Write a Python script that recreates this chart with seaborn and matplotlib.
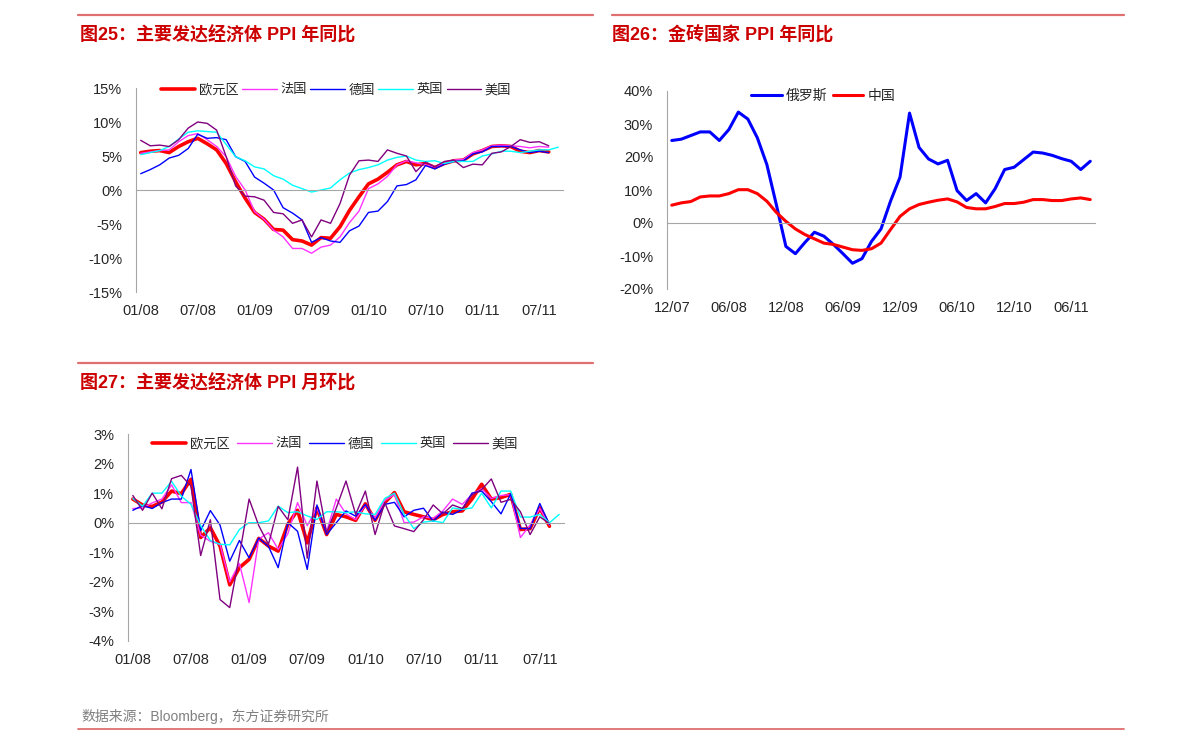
import numpy as np
import pandas as pd
import seaborn as sns
import matplotlib.pyplot as plt
from matplotlib.lines import Line2D

# ---- chart 25: PPI yoy (%), 01/08 - 08/11 (UK to 09/11)
labels_a = ['01/08', '07/08', '01/09', '07/09', '01/10', '07/10', '01/11', '07/11']
ez_yoy = [5.5, 5.7, 5.8, 5.5, 6.4, 7.1, 7.6, 6.8, 5.9, 3.9,
          1.2, -1.2, -3.3, -4.3, -5.8, -5.9, -7.3, -7.5, -8.1, -7.0,
          -7.1, -5.4, -3.0, -1.0, 0.9, 1.6, 2.6, 3.7, 4.2, 3.7,
          3.9, 3.3, 3.9, 4.3, 4.4, 5.3, 5.8, 6.4, 6.5, 6.4,
          5.7, 5.5, 5.8, 5.6]
fr_yoy = [5.4, 5.6, 5.8, 5.9, 7.1, 8.0, 8.3, 7.4, 6.4, 4.9,
          2.0, 0.0, -3.2, -4.3, -5.9, -6.9, -8.6, -8.6, -9.3, -8.4,
          -8.1, -6.9, -4.8, -3.1, 0.2, 0.9, 2.0, 3.7, 4.3, 4.0,
          3.7, 3.4, 3.9, 4.4, 4.5, 5.5, 5.9, 6.5, 6.6, 6.5,
          6.4, 6.2, 6.4, 6.3]
de_yoy = [2.4, 3.0, 3.7, 4.7, 5.1, 6.1, 8.2, 7.6, 7.7, 7.4,
          4.9, 4.2, 1.9, 1.0, 0.0, -2.6, -3.4, -4.4, -7.7, -7.0,
          -7.5, -7.7, -6.0, -5.3, -3.3, -3.1, -1.7, 0.6, 0.8, 1.5,
          3.6, 3.1, 3.8, 4.2, 4.3, 5.3, 5.6, 6.4, 6.4, 6.4,
          5.9, 5.5, 5.7, 5.5]
uk_yoy = [5.2, 5.5, 5.8, 6.4, 7.5, 8.5, 8.7, 8.6, 8.5, 6.7,
          4.9, 4.3, 3.4, 3.1, 2.1, 1.6, 0.7, 0.2, -0.3, 0.0,
          0.3, 1.5, 2.5, 3.0, 3.3, 3.7, 4.4, 4.8, 5.0, 4.4,
          4.2, 4.3, 3.9, 4.2, 4.2, 4.2, 5.0, 5.3, 5.7, 5.7,
          5.5, 5.7, 5.9, 5.9, 6.3]
us_yoy = [7.3, 6.5, 6.6, 6.4, 7.4, 9.1, 10.0, 9.8, 8.8, 4.9,
          0.6, -0.9, -1.0, -1.5, -3.3, -3.5, -4.9, -4.4, -6.9, -4.4,
          -4.9, -2.0, 2.2, 4.3, 4.4, 4.2, 5.9, 5.4, 5.0, 2.7,
          4.1, 3.4, 4.2, 4.4, 3.3, 3.8, 3.7, 5.4, 5.6, 6.4,
          7.4, 7.0, 7.1, 6.5]

# ---- chart 26: BRIC PPI yoy (%), 12/07 - 08/11
labels_b = ['12/07', '06/08', '12/08', '06/09', '12/09', '06/10', '12/10', '06/11']
russia = [25.0, 25.4, 26.5, 27.6, 27.6, 25.0, 28.3, 33.6, 31.5, 25.8,
          17.7, 5.5, -7.1, -9.3, -5.9, -2.8, -4.0, -6.5, -9.3, -12.2,
          -10.8, -5.6, -1.8, 6.6, 13.9, 33.3, 22.9, 19.4, 17.9, 19.0,
          9.8, 6.8, 8.9, 6.1, 10.4, 16.2, 16.9, 19.2, 21.5, 21.2,
          20.5, 19.5, 18.7, 16.2, 18.7]
china = [5.4, 6.1, 6.5, 7.9, 8.2, 8.2, 8.9, 10.1, 10.1, 8.9,
         6.6, 3.2, 0.5, -1.8, -3.5, -4.8, -6.1, -6.5, -7.3, -8.1,
         -8.3, -7.8, -6.1, -2.0, 2.0, 4.3, 5.6, 6.3, 6.9, 7.3,
         6.4, 4.7, 4.3, 4.3, 5.0, 5.9, 5.9, 6.3, 7.1, 7.1,
         6.8, 6.8, 7.3, 7.6, 7.1]

# ---- chart 27: PPI mom (%), 01/08 - 08/11 (UK to 09/11)
ez_mom = [0.8, 0.6, 0.55, 0.7, 1.07, 0.98, 1.47, -0.5, -0.17, -0.79,
          -2.1, -1.52, -1.24, -0.53, -0.79, -0.96, -0.05, 0.42, -0.68, 0.5,
          -0.4, 0.28, 0.2, 0.08, 0.64, 0.08, 0.68, 1.02, 0.37, 0.28,
          0.2, 0.1, 0.28, 0.37, 0.4, 0.8, 1.3, 0.8, 0.85, 0.96,
          -0.23, -0.2, 0.5, -0.12]
fr_mom = [0.48, 0.5, 0.67, 0.8, 1.28, 0.68, 0.68, -0.42, -0.63, -0.73,
          -2.0, -1.38, -2.7, -0.55, -0.34, -0.9, -0.37, 0.68, -0.1, 0.5,
          -0.3, 0.8, 0.3, 0.1, 0.6, 0.15, 0.75, 0.95, 0.0, 0.02,
          0.2, 0.15, 0.4, 0.8, 0.62, 0.96, 1.15, 0.82, 0.92, 0.95,
          -0.5, -0.08, 0.48, -0.08]
de_mom = [0.42, 0.58, 0.48, 0.68, 0.8, 0.8, 1.8, -0.27, 0.41, -0.08,
          -1.3, -0.6, -1.19, -0.52, -0.8, -1.52, 0.0, -0.29, -1.58, 0.6,
          -0.4, 0.0, 0.4, 0.22, 0.62, 0.08, 0.62, 0.69, 0.2, 0.42,
          0.49, 0.05, 0.36, 0.28, 0.45, 1.0, 1.07, 0.71, 0.3, 0.98,
          -0.19, -0.2, 0.65, -0.06]
uk_mom = [0.82, 0.56, 1.0, 1.0, 1.4, 0.9, 0.62, -0.1, -0.6, -0.73,
          -0.75, -0.23, 0.0, 0.0, 0.06, 0.56, 0.34, 0.37, 0.23, 0.11,
          0.37, 0.37, 0.34, 0.37, 0.3, 0.28, 0.82, 1.0, 0.28, -0.2,
          0.02, 0.06, 0.0, 0.5, 0.45, 0.5, 1.0, 0.5, 1.07, 1.07,
          0.19, 0.19, 0.28, 0.0, 0.28]
us_mom = [0.92, 0.42, 1.0, 0.47, 1.49, 1.6, 1.24, -1.11, 0.1, -2.6,
          -2.87, -1.1, 0.8, -0.1, -0.73, 0.55, 0.1, 1.88, -1.2, 1.41,
          -0.34, 0.5, 1.41, 0.28, 1.07, -0.4, 0.68, -0.11, -0.2, -0.3,
          0.1, 0.6, 0.3, 0.6, 0.48, 0.94, 1.12, 1.48, 0.69, 0.79,
          0.37, -0.4, 0.2, -0.03]

names_dev = ['欧元区', '法国', '德国', '英国', '美国']
colors_dev = ['#FF0000', '#FF33FF', '#0000FF', '#00FFFF', '#800080']
widths_dev = [2.6, 1.0, 1.0, 1.0, 1.0]

W, H = 1191, 743
sns.set_style('white')
plt.rcParams['font.family'] = ['Liberation Sans', 'Noto Sans CJK SC']
CJK = ['Noto Sans CJK SC', 'DejaVu Sans']
GRAY = '#A6A6A6'
TITLE_RED = '#CC0000'
RULE_RED = '#E07070'

fig = plt.figure(figsize=(W / 100, H / 100), dpi=100)


def add_ax(x0, y0, x1, y1):
    return fig.add_axes([x0 / W, 1 - y1 / H, (x1 - x0) / W, (y1 - y0) / H])


def style_axis(ax, ymin, ymax, ystep, xlabels, n=45):
    ax.set_xlim(-0.5, n - 0.5)
    ax.set_ylim(ymin, ymax)
    ax.set_yticks(np.arange(ymin, ymax + ystep / 2, ystep))
    ax.yaxis.set_major_formatter(lambda v, p: f'{v:.0f}%')
    for s in ['top', 'right']:
        ax.spines[s].set_visible(False)
    ax.spines['left'].set_color(GRAY)
    ax.spines['bottom'].set_color(GRAY)
    ax.spines['bottom'].set_position(('data', 0))
    ax.set_xticks(np.arange(5.5, n - 0.5, 6))
    ax.set_xticklabels([])
    ax.tick_params(axis='x', direction='out', length=4, color=GRAY, width=0.8)
    ax.tick_params(axis='y', direction='out', length=4, color=GRAY, width=0.8,
                   pad=6, labelsize=10.5)
    ax.set_xlabel('')
    ax.set_ylabel('')
    sec = ax.secondary_xaxis('bottom')
    sec.set_xticks(np.arange(0, n, 6), xlabels)
    sec.tick_params(length=0, pad=9, labelsize=10.5)
    sec.spines['bottom'].set_visible(False)


def rule(x0, x1, y, lw=1.6):
    fig.add_artist(Line2D([x0 / W, x1 / W], [1 - y / H, 1 - y / H], color=RULE_RED,
                          lw=lw, transform=fig.transFigure))


def title(x, y, text):
    fig.text(x / W, 1 - y / H, text, fontsize=13, fontweight='bold', color=TITLE_RED,
             ha='left', va='center', family=['Liberation Sans', 'Noto Sans CJK SC'])


def legend(ax, x, y, ncol, size, hl, cs):
    ax.legend(loc='center left', bbox_to_anchor=(x / W, 1 - y / H), bbox_transform=fig.transFigure,
              ncol=ncol, frameon=False, prop={'family': CJK, 'size': size}, handlelength=hl,
              handletextpad=0.3, columnspacing=cs, borderpad=0, borderaxespad=0)


# chart 25
ax1 = add_ax(136, 88, 563, 292)
for name, vals, c, lw in zip(names_dev, [ez_yoy, fr_yoy, de_yoy, uk_yoy, us_yoy], colors_dev, widths_dev):
    sns.lineplot(x=np.arange(len(vals)), y=vals, ax=ax1, color=c, linewidth=lw, label=name)
style_axis(ax1, -15, 15, 5, labels_a)
legend(ax1, 161, 90, 5, 9.5, 2.6, 0.25)

# chart 26
ax2 = add_ax(667, 91, 1095, 289)
for name, vals, c in zip(['俄罗斯', '中国'], [russia, china], ['#0000FF', '#FF0000']):
    sns.lineplot(x=np.arange(len(vals)), y=vals, ax=ax2, color=c, linewidth=2.2, label=name)
style_axis(ax2, -20, 40, 10, labels_b)
legend(ax2, 751, 96, 2, 10, 2.2, 0.4)

# chart 27
ax3 = add_ax(128, 434, 564, 641)
for name, vals, c, lw in zip(names_dev, [ez_mom, fr_mom, de_mom, uk_mom, us_mom], colors_dev, widths_dev):
    sns.lineplot(x=np.arange(len(vals)), y=vals, ax=ax3, color=c, linewidth=lw, label=name)
style_axis(ax3, -4, 3, 1, labels_a)
legend(ax3, 152, 444, 5, 9.5, 2.6, 0.55)

# headers and footer
rule(78, 593, 15)
rule(612, 1124, 15)
rule(78, 593, 363)
rule(78, 1124, 729, lw=1.3)
title(80, 35, '图25：主要发达经济体 PPI 年同比')
title(612, 35, '图26：金砖国家 PPI 年同比')
title(80, 383, '图27：主要发达经济体 PPI 月环比')
fig.text(81 / W, 1 - 717 / H, '数据来源：Bloomberg，东方证券研究所', fontsize=10, color='#808080',
         ha='left', va='center', family=['Liberation Sans', 'Noto Sans CJK SC'])

fig.savefig('out.png', dpi=100)
